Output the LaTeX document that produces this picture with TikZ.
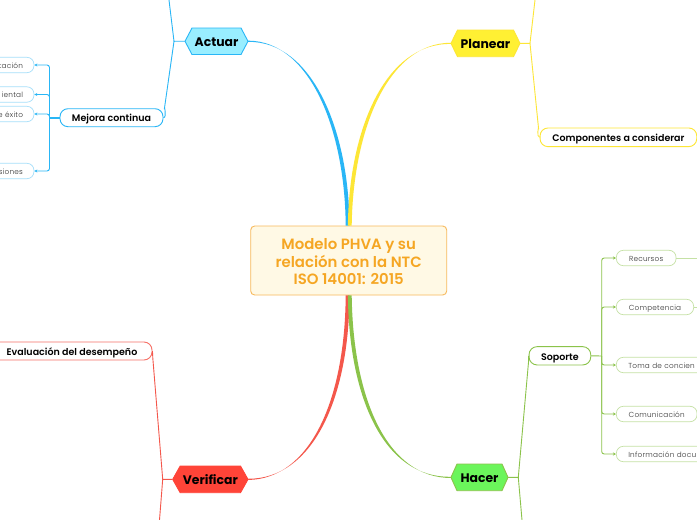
\documentclass[tikz,border=0pt]{standalone}
\usepackage{fontspec}
\setmainfont{Poppins}
\newfontfamily\boldf{Poppins SemiBold}
\newfontfamily\heavyf{Poppins Bold}
\newfontfamily\lightf[LetterSpace=3]{Poppins Light}
\definecolor{cblue}{HTML}{29B6F6}
\definecolor{cbluel}{HTML}{A6DFFA}
\definecolor{cyell}{HTML}{FDE636}
\definecolor{cyellf}{HTML}{FFF033}
\definecolor{cgreen}{HTML}{8BC34A}
\definecolor{cgreenl}{HTML}{C5E1A5}
\definecolor{cgreenf}{HTML}{6BF55B}
\definecolor{cred}{HTML}{F4574B}
\definecolor{credf}{HTML}{FF4438}
\definecolor{cbluef}{HTML}{99EEFF}
\definecolor{corange}{HTML}{F5A623}
\definecolor{corangel}{HTML}{F7B95C}
\definecolor{rootf}{HTML}{FFF9E5}
\tikzset{
  x=1pt,y=-1pt,
  hexlabel/.style={inner sep=0pt,text height=1.02em,text depth=0pt,font=\heavyf\fontsize{12.4}{15}\selectfont,text=black},
  subnode/.style={draw,fill=white,rounded corners=8pt,line width=0.9pt,inner sep=0pt,text height=.85em,text depth=0pt,font=\boldf\fontsize{9.5}{10}\selectfont,text=black},
  leaf/.style={draw,fill=white,rounded corners=7pt,line width=0.7pt,inner sep=0pt,text height=.66em,text depth=0pt,font=\lightf\fontsize{7.3}{8}\selectfont,text=black!80},
  branch/.style={line width=0.9pt},
  kid/.style={line width=0.9pt,rounded corners=2.5pt},
  tip/.style={-{Stealth[length=3pt,width=3pt]}}
}
\usetikzlibrary{arrows.meta}
% #1 name, #2 x left, #3 x right, #4 y top, #5 y bottom, #6 inset, #7 fill, #8 stroke, #9 text
\newcommand{\hexn}[9]{%
  \draw[#8,fill=#7,line width=0.9pt,line join=round] (#2,{(#4+#5)/2})--(#2+#6,#4)--(#3-#6,#4)--(#3,{(#4+#5)/2})--(#3-#6,#5)--(#2+#6,#5)--cycle;
  \node[hexlabel,minimum width={(#3-#2)*1pt},minimum height={(#5-#4)*1pt}] (#1) at ({(#2+#3)/2},{(#4+#5)/2}) {#9};
}
\begin{document}
\begin{tikzpicture}
\useasboundingbox (0,0) rectangle (697,520);
\clip (0,0) rectangle (697,520);
\fill[white] (0,0) rectangle (697,520);

% main nodes
\node[draw=corangel,fill=rootf,line width=0.9pt,rounded corners=4pt,minimum width=196pt,minimum height=69pt,inner sep=0pt,align=center,text=corange,font=\boldf\fontsize{14.9}{17.5}\selectfont] (root) at (348.7,260.5) {\rule{0pt}{13.5pt}Modelo PHVA y su\\relación con la NTC\\ISO 14001: 2015};
\hexn{actuar}{185}{248}{28}{54.5}{7}{cbluef}{cblue}{Actuar}
\hexn{planear}{451}{520}{30}{56.7}{6.5}{cyellf}{cyell}{Planear}
\hexn{hacer}{451}{508}{464}{490.7}{6}{cgreenf}{cgreen}{Hacer}
\hexn{verificar}{172.7}{248}{466}{492.7}{7.5}{credf}{credf}{Verificar}

% tapered main connectors
\fill[cblue] ([xshift=-3pt]root.north) .. controls (345,130) and (310,41) .. ([yshift=0.6pt]actuar.east) -- ([yshift=-0.6pt]actuar.east) .. controls (312,41) and (349,130) .. ([xshift=0.8pt]root.north) -- cycle;
\fill[cyell] ([xshift=-0.8pt]root.north) .. controls (349,130) and (385,43) .. ([yshift=-0.6pt]planear.west) -- ([yshift=0.6pt]planear.west) .. controls (388,43) and (353,130) .. ([xshift=3pt]root.north) -- cycle;
\fill[cred] ([xshift=-3pt]root.south) .. controls (345,400) and (310,479) .. ([yshift=-0.6pt]verificar.east) -- ([yshift=0.6pt]verificar.east) .. controls (312,479) and (349,400) .. ([xshift=0.8pt]root.south) -- cycle;
\fill[cgreen] ([xshift=-0.8pt]root.south) .. controls (349,400) and (385,478) .. ([yshift=0.6pt]hacer.west) -- ([yshift=-0.6pt]hacer.west) .. controls (388,478) and (353,400) .. ([xshift=3pt]root.south) -- cycle;

% sub nodes
\node[subnode,draw=cblue,minimum width=103pt,minimum height=18pt] (mejora) at (111.5,117.7) {Mejora continua};
\node[subnode,draw=cyell,minimum width=156.7pt,minimum height=18.7pt] (comp) at (618.4,137.3) {Componentes a considerar};
\node[subnode,draw=cgreen,minimum width=61.7pt,minimum height=18.3pt] (soporte) at (559.9,355.8) {Soporte};
\node[subnode,draw=cred!85,minimum width=160pt,minimum height=18pt] (eval) at (72,351) {Evaluación del desempeño};

% free ends
\coordinate (jact) at (174,41.3);
\coordinate (topact) at (169,0);
\coordinate (jpla) at (530,43.3);
\coordinate (toppla) at (535,0);
\coordinate (jhac) at (518.3,477.3);
\coordinate (bothac) at (522,520);
\coordinate (jver) at (162.7,479.3);
\coordinate (botver) at (159.5,520);
\coordinate (bkb) at (49.5,117.7);
\coordinate (bkg) at (601.7,356);

% branch connectors
\draw[branch,cblue] (actuar.west)--(jact)--(topact);
\draw[branch,cblue] (jact)--(164.5,108) to[out=100,in=0] (mejora.east);
\draw[branch,cyell] (planear.east)--(jpla)--(toppla);
\draw[branch,cyell] (jpla)--(538.5,128) to[out=80,in=180] (comp.west);
\draw[branch,cgreen] (hacer.east)--(jhac)--(bothac);
\draw[branch,cgreen] (jhac)--(528.7,360) -- (soporte.west);
\draw[branch,cred] (verificar.west)--(jver)--(botver);
\draw[branch,cred] (jver)--(152.8,358) -- (eval.east);

% blue leaves
\tikzset{bleaf/.style={leaf,draw=cbluel,anchor=east,text width=57pt,align=right,minimum height=15.4pt}}
\node[bleaf] (l1) at (34.3,65) {tación\hspace*{11pt}};
\node[bleaf] (l2) at (34.3,94.5) {iental\hspace*{11pt}};
\node[bleaf] (l3) at (34.3,114) {e éxito\hspace*{11pt}};
\node[bleaf] (l4) at (34.3,171) {siones\hspace*{11pt}};
\draw[line width=1.8pt,cblue] (mejora.west)--(bkb);
\draw[kid,cblue,tip] (bkb)--(bkb|-l1.east)--(l1.east);
\draw[kid,cblue,tip] (bkb)--(bkb|-l2.east)--(l2.east);
\draw[kid,cblue,tip] (bkb)--(bkb|-l3.east)--(l3.east);
\draw[kid,cblue,tip] (bkb)--(bkb|-l4.east)--(l4.east);

% green leaves
\node[leaf,draw=cgreenl,anchor=west,minimum width=59.7pt,minimum height=15.4pt] (g1) at (616,258) {Recursos};
\node[leaf,draw=cgreenl,anchor=west,minimum width=77.3pt,minimum height=15.4pt] (g2) at (616,307) {Competencia};
\node[leaf,draw=cgreenl,anchor=west,minimum width=110pt,minimum height=15.4pt,text width=106pt,align=left] (g3) at (616,365) {\hspace*{10pt}Toma de concien};
\node[leaf,draw=cgreenl,anchor=west,minimum width=80.7pt,minimum height=15.4pt] (g4) at (616,414) {Comunicación};
\node[leaf,draw=cgreenl,anchor=west,minimum width=110pt,minimum height=15.4pt,text width=106pt,align=left] (g5) at (616,454) {\hspace*{10pt}Información docu};
\draw[line width=0.9pt,cgreen] (soporte.east)--(bkg);
\draw[kid,cgreen,tip] (bkg)--(bkg|-g1.west)--(g1.west);
\draw[kid,cgreen,tip] (bkg)--(bkg|-g2.west)--(g2.west);
\draw[kid,cgreen,tip] (bkg)--(bkg|-g3.west)--(g3.west);
\draw[kid,cgreen,tip] (bkg)--(bkg|-g4.west)--(g4.west);
\draw[kid,cgreen,tip] (bkg)--(bkg|-g5.west)--(g5.west);
\coordinate (r1) at (697,258);
\coordinate (r2) at (697,307);
\draw[line width=0.7pt,cgreenl] (g1.east)--(r1);
\draw[line width=0.7pt,cgreenl] (g2.east)--(r2);
\end{tikzpicture}
\end{document}
